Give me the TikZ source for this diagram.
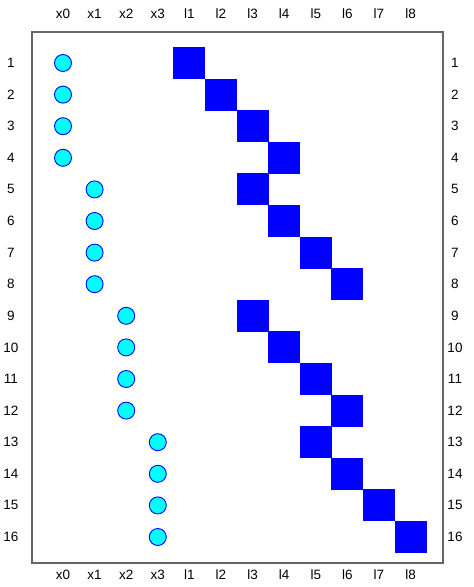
\documentclass[tikz,border=0pt]{standalone}
\usepackage{fontspec}
\setmainfont{Liberation Sans}
\definecolor{brightcyan}{RGB}{0,255,255}
\definecolor{pureblue}{RGB}{0,0,255}
\begin{document}
\begin{tikzpicture}[x=1pt,y=-1pt,
  lbl/.style={font=\fontsize{13.5}{15}\selectfont, inner sep=0pt},
  dot/.style={circle, draw=pureblue, fill=brightcyan, line width=0.9pt, minimum size=17pt, inner sep=0pt},
  cell/.style={rectangle, fill=pureblue, draw=none, minimum size=32pt, inner sep=0pt}]
\useasboundingbox (0,0) rectangle (474,587);
\draw[gray!80!black, line width=1.8pt] (32,32) rectangle (443,563);
% column labels
\foreach \t [count=\i from 0] in {x0,x1,x2,x3,l1,l2,l3,l4,l5,l6,l7,l8} {
  \node[lbl] (top\i) at ({63+31.6*\i},14) {\t};
  \node[lbl] (bot\i) at ({63+31.6*\i},575) {\t};
}
% row labels
\foreach \r in {1,...,16} {
  \node[lbl] (left\r) at (11,{63+31.6*(\r-1)}) {\r};
  \node[lbl] (right\r) at (455,{63+31.6*(\r-1)}) {\r};
}
% circles
\foreach \r/\c in {1/0,2/0,3/0,4/0,5/1,6/1,7/1,8/1,9/2,10/2,11/2,12/2,13/3,14/3,15/3,16/3} {
  \node[dot] (d\r) at ({63+31.6*\c},{63+31.6*(\r-1)}) {};
}
% squares
\foreach \r/\c in {1/4,2/5,3/6,4/7,5/6,6/7,7/8,8/9,9/6,10/7,11/8,12/9,13/8,14/9,15/10,16/11} {
  \node[cell] (s\r) at ({63+31.6*\c},{63+31.6*(\r-1)}) {};
}
\end{tikzpicture}
\end{document}
